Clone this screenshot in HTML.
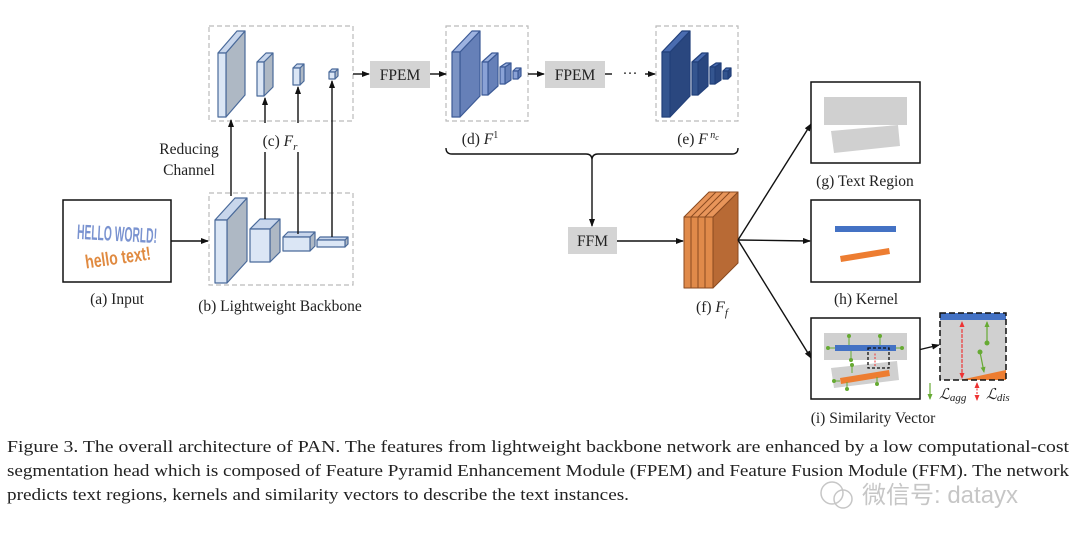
<!DOCTYPE html>
<html><head><meta charset="utf-8"><style>
html,body{margin:0;padding:0;background:#fff;}
svg{display:block;}
</style></head><body>
<svg width="1080" height="546" viewBox="0 0 1080 546" xmlns="http://www.w3.org/2000/svg" font-family="Liberation Serif, serif" fill="#222">
<defs>
<marker id="ah" markerWidth="8" markerHeight="6" refX="7" refY="3" orient="auto" markerUnits="userSpaceOnUse"><path d="M0,0 L8,3 L0,6 z" fill="#111"/></marker>
<marker id="rh" markerWidth="6" markerHeight="5" refX="5" refY="2.5" orient="auto" markerUnits="userSpaceOnUse"><path d="M0,0 L6,2.5 L0,5 z" fill="#e33"/></marker>
<marker id="gh" markerWidth="6" markerHeight="5" refX="5" refY="2.5" orient="auto" markerUnits="userSpaceOnUse"><path d="M0,0 L6,2.5 L0,5 z" fill="#6a3"/></marker>
</defs>

<g fill="none" stroke="#bbb" stroke-width="1.2" stroke-dasharray="5,3">
<rect x="209" y="26" width="144" height="95"/>
<rect x="209" y="193" width="144" height="92"/>
<rect x="446" y="26" width="82" height="95"/>
<rect x="656" y="26" width="82" height="95"/>
</g>

<g stroke="#4a6a9a" stroke-width="1.2" stroke-linejoin="round">
<polygon points="226,53 245,31 245,95 226,117" fill="#aeb8c4"/>
<polygon points="218,53 237,31 245,31 226,53" fill="#c8d6ec"/>
<rect x="218" y="53" width="8" height="64" fill="#dbe6f5"/>
<polygon points="264,62 273,53 273,87 264,96" fill="#aeb8c4"/>
<polygon points="257,62 266,53 273,53 264,62" fill="#c8d6ec"/>
<rect x="257" y="62" width="7" height="34" fill="#dbe6f5"/>
<polygon points="300,68 304,64 304,81 300,85" fill="#aeb8c4"/>
<polygon points="293,68 297,64 304,64 300,68" fill="#c8d6ec"/>
<rect x="293" y="68" width="7" height="17" fill="#dbe6f5"/>
<polygon points="335,72 338,69 338,76 335,79" fill="#aeb8c4"/>
<polygon points="329,72 332,69 338,69 335,72" fill="#c8d6ec"/>
<rect x="329" y="72" width="6" height="7" fill="#dbe6f5"/>

<polygon points="227,220 247,198 247,261 227,283" fill="#aeb8c4"/>
<polygon points="215,220 235,198 247,198 227,220" fill="#c8d6ec"/>
<rect x="215" y="220" width="12" height="63" fill="#dbe6f5"/>
<polygon points="270,229 280,219 280,252 270,262" fill="#aeb8c4"/>
<polygon points="250,229 260,219 280,219 270,229" fill="#c8d6ec"/>
<rect x="250" y="229" width="20" height="33" fill="#dbe6f5"/>
<polygon points="310,237 315,232 315,246 310,251" fill="#aeb8c4"/>
<polygon points="283,237 288,232 315,232 310,237" fill="#c8d6ec"/>
<rect x="283" y="237" width="27" height="14" fill="#dbe6f5"/>
<polygon points="345,240 348,237 348,244 345,247" fill="#aeb8c4"/>
<polygon points="317,240 320,237 348,237 345,240" fill="#c8d6ec"/>
<rect x="317" y="240" width="28" height="7" fill="#dbe6f5"/>
</g>

<g stroke="#3c5a96" stroke-width="1.2" stroke-linejoin="round">
<polygon points="460,52 480,31 480,96 460,117" fill="#6680b8"/>
<polygon points="452,52 472,31 480,31 460,52" fill="#9db2e0"/>
<rect x="452" y="52" width="8" height="65" fill="#7b93c4"/>
<polygon points="488,62 498,53 498,86 488,95" fill="#6680b8"/>
<polygon points="482,62 492,53 498,53 488,62" fill="#9db2e0"/>
<rect x="482" y="62" width="6" height="33" fill="#8aa2d6"/>
<polygon points="505,67 511,63 511,80 505,84" fill="#6680b8"/>
<polygon points="500,67 506,63 511,63 505,67" fill="#9db2e0"/>
<rect x="500" y="67" width="5" height="17" fill="#8aa2d6"/>
<polygon points="518,71 521,68 521,76 518,79" fill="#6680b8"/>
<polygon points="513,71 516,68 521,68 518,71" fill="#9db2e0"/>
<rect x="513" y="71" width="5" height="8" fill="#8aa2d6"/>
</g>
<g stroke="#22407a" stroke-width="1.2" stroke-linejoin="round" transform="translate(210,0)">
<polygon points="460,52 480,31 480,96 460,117" fill="#2a477f"/>
<polygon points="452,52 472,31 480,31 460,52" fill="#4a6cb0"/>
<rect x="452" y="52" width="8" height="65" fill="#34558f"/>
<polygon points="488,62 498,53 498,86 488,95" fill="#2a477f"/>
<polygon points="482,62 492,53 498,53 488,62" fill="#4a6cb0"/>
<rect x="482" y="62" width="6" height="33" fill="#34558f"/>
<polygon points="505,67 511,63 511,80 505,84" fill="#2a477f"/>
<polygon points="500,67 506,63 511,63 505,67" fill="#4a6cb0"/>
<rect x="500" y="67" width="5" height="17" fill="#34558f"/>
<polygon points="518,71 521,68 521,76 518,79" fill="#2a477f"/>
<polygon points="513,71 516,68 521,68 518,71" fill="#4a6cb0"/>
<rect x="513" y="71" width="5" height="8" fill="#34558f"/>
</g>

<g stroke="#8a4a20" stroke-width="1" stroke-linejoin="round">
<polygon points="713,217 738,192 738,263 713,288" fill="#b86a35"/>
<polygon points="684,217 709,192 738,192 713,217" fill="#e8955a"/>
<rect x="684" y="217" width="29" height="71" fill="#e08a4a"/>
<line x1="691" y1="217" x2="691" y2="288"/><line x1="698" y1="217" x2="698" y2="288"/><line x1="705" y1="217" x2="705" y2="288"/>
<line x1="691" y1="217" x2="716" y2="192"/><line x1="698" y1="217" x2="723" y2="192"/><line x1="705" y1="217" x2="730" y2="192"/>
</g>

<g fill="#d4d4d4">
<rect x="370" y="61" width="60" height="27"/>
<rect x="545" y="61" width="60" height="27"/>
<rect x="568" y="227" width="49" height="27"/>
</g>
<g font-size="15.5" text-anchor="middle" fill="#222">
<text x="400" y="80">FPEM</text>
<text x="575" y="80">FPEM</text>
<text x="592.5" y="246">FFM</text>
</g>

<g stroke="#111" stroke-width="1.4" fill="none" marker-end="url(#ah)">
<line x1="171" y1="241" x2="208" y2="241"/>
<line x1="231" y1="196" x2="231" y2="120"/>
<line x1="265" y1="123" x2="265" y2="98"/>
<line x1="298" y1="123" x2="298" y2="87"/>
<line x1="332" y1="120" x2="332" y2="81"/>
<line x1="353" y1="74" x2="369" y2="74"/>
<line x1="430" y1="74" x2="446" y2="74"/>
<line x1="528" y1="74" x2="544" y2="74"/>
<line x1="645" y1="74" x2="655" y2="74"/>
<line x1="592" y1="160" x2="592" y2="226"/>
<line x1="617" y1="241" x2="683" y2="241"/>
<line x1="738" y1="240" x2="811" y2="124"/>
<line x1="738" y1="240" x2="810" y2="241"/>
<line x1="738" y1="240" x2="811" y2="358"/>
<line x1="889" y1="357" x2="939" y2="345"/>
</g>
<g stroke="#111" stroke-width="1.4">
<line x1="265" y1="219" x2="265" y2="152"/>
<line x1="298" y1="234" x2="298" y2="152"/>
<line x1="332" y1="237" x2="332" y2="120"/>
<line x1="605" y1="74" x2="612" y2="74"/>
</g>
<text x="630" y="78" font-size="15" text-anchor="middle">···</text>
<path d="M446,148 q0,6 6,6 L586,154 q6,0 6,6 q0,-6 6,-6 L732,154 q6,0 6,-6" fill="none" stroke="#111" stroke-width="1.4"/>

<rect x="63" y="200" width="108" height="82" fill="#fff" stroke="#111" stroke-width="1.5"/>
<text x="117" y="241" style="font-family:'Liberation Sans',sans-serif;fill:#7a93d0" font-size="21" font-weight="bold" text-anchor="middle" textLength="80" lengthAdjust="spacingAndGlyphs" transform="rotate(3 117 235)">HELLO WORLD!</text>
<text x="118" y="264" style="font-family:'Liberation Sans',sans-serif;fill:#e08a40" font-size="19" font-weight="bold" text-anchor="middle" textLength="66" lengthAdjust="spacingAndGlyphs" transform="rotate(-8 118 258)">hello text!</text>

<g fill="#fff" stroke="#111" stroke-width="1.5">
<rect x="811" y="82" width="109" height="81"/>
<rect x="811" y="200" width="109" height="82"/>
<rect x="811" y="318" width="109" height="81"/>
</g>
<rect x="824" y="97" width="83" height="28" fill="#d0d0d0"/>
<polygon points="831,131 898,125 900,146 834,153" fill="#d0d0d0"/>
<rect x="835" y="226" width="61" height="6" fill="#4472c4"/>
<polygon points="840,256 889,248 890,254 841,262" fill="#ed7d31"/>

<rect x="824" y="333" width="83" height="27" fill="#d0d0d0"/>
<polygon points="831,368 897,361 899,380 834,388" fill="#d0d0d0"/>
<rect x="835" y="345" width="61" height="6" fill="#4472c4"/>
<polygon points="840,378 889,370 890,376 841,384" fill="#ed7d31"/>
<g stroke="#6a3" stroke-width="1" fill="#6a3">
<line x1="849" y1="345" x2="849" y2="336"/><circle cx="849" cy="336" r="1.5"/>
<line x1="880" y1="345" x2="880" y2="336"/><circle cx="880" cy="336" r="1.5"/>
<line x1="851" y1="351" x2="851" y2="360"/><circle cx="851" cy="360" r="1.5"/>
<line x1="835" y1="348" x2="828" y2="348"/><circle cx="828" cy="348" r="1.5"/>
<line x1="896" y1="348" x2="902" y2="348"/><circle cx="902" cy="348" r="1.5"/>
<line x1="852" y1="373" x2="852" y2="365"/><circle cx="852" cy="365" r="1.5"/>
<line x1="847" y1="382" x2="847" y2="389"/><circle cx="847" cy="389" r="1.5"/>
<line x1="877" y1="377" x2="877" y2="384"/><circle cx="877" cy="384" r="1.5"/>
<line x1="840" y1="381" x2="834" y2="381"/><circle cx="834" cy="381" r="1.5"/>
</g>
<rect x="868" y="348" width="21" height="20" fill="none" stroke="#111" stroke-width="1.3" stroke-dasharray="3,2"/>
<line x1="875" y1="366" x2="875" y2="352" stroke="#e33" stroke-width="1" stroke-dasharray="2,1.5"/>

<rect x="940" y="313" width="66" height="67" fill="#d0d0d0"/>
<rect x="940" y="313" width="66" height="7" fill="#4472c4"/>
<polygon points="960,380 1006,370 1006,380" fill="#ed7d31"/>
<rect x="940" y="313" width="66" height="67" fill="none" stroke="#111" stroke-width="1.5" stroke-dasharray="6,3"/>
<line x1="962" y1="377" x2="962" y2="322" stroke="#e33" stroke-width="1.1" stroke-dasharray="3,2" marker-end="url(#rh)"/>
<line x1="962" y1="330" x2="962" y2="378" stroke="#e33" stroke-width="1.1" stroke-dasharray="3,2" marker-end="url(#rh)"/>
<line x1="987" y1="343" x2="987" y2="322" stroke="#6a3" stroke-width="1.2" marker-end="url(#gh)"/>
<circle cx="987" cy="343" r="2.5" fill="#6a3"/>
<line x1="980" y1="352" x2="984" y2="372" stroke="#6a3" stroke-width="1.2" marker-end="url(#gh)"/>
<circle cx="980" cy="352" r="2.5" fill="#6a3"/>

<line x1="930" y1="383" x2="930" y2="399" stroke="#6a3" stroke-width="1.2" marker-end="url(#gh)"/>
<text x="939" y="399" font-size="15" font-style="italic">ℒ<tspan font-size="11" dy="2">agg</tspan></text>
<line x1="977" y1="388" x2="977" y2="383" stroke="#e33" stroke-width="1.1" marker-end="url(#rh)"/>
<line x1="977" y1="385" x2="977" y2="400" stroke="#e33" stroke-width="1.1" stroke-dasharray="2,1.5" marker-end="url(#rh)"/>
<text x="986" y="399" font-size="15" font-style="italic">ℒ<tspan font-size="11" dy="2">dis</tspan></text>

<g font-size="15.5" text-anchor="middle">
<text x="117" y="304">(a) Input</text>
<text x="280" y="311">(b) Lightweight  Backbone</text>
<text x="280" y="146">(c) <tspan font-style="italic">F</tspan><tspan font-style="italic" font-size="11" dy="4">r</tspan></text>
<text x="189" y="154">Reducing</text>
<text x="189" y="175">Channel</text>
<text x="480" y="144">(d) <tspan font-style="italic">F</tspan><tspan font-size="10" dy="-6">1</tspan></text>
<text x="698" y="144">(e) <tspan font-style="italic">F</tspan><tspan font-style="italic" font-size="10" dy="-6"> n</tspan><tspan font-style="italic" font-size="8" dy="2">c</tspan></text>
<text x="712" y="312">(f) <tspan font-style="italic">F</tspan><tspan font-style="italic" font-size="11" dy="4">f</tspan></text>
<text x="865" y="186">(g) Text Region</text>
<text x="866" y="304">(h) Kernel</text>
<text x="873" y="423">(i) Similarity Vector</text>
</g>

<g font-size="17">
<text x="7" y="452" textLength="1062" lengthAdjust="spacingAndGlyphs">Figure 3. The overall architecture of PAN. The features from lightweight backbone network are enhanced by a low computational-cost</text>
<text x="7" y="476" textLength="1062" lengthAdjust="spacingAndGlyphs">segmentation head which is composed of Feature Pyramid Enhancement Module (FPEM) and Feature Fusion Module (FFM). The network</text>
<text x="7" y="500" textLength="622" lengthAdjust="spacingAndGlyphs">predicts text regions, kernels and similarity vectors to describe the text instances.</text>
</g>
<g opacity="0.55">
<circle cx="832" cy="493" r="11" fill="none" stroke="#999" stroke-width="1.5"/>
<circle cx="843" cy="499" r="9" fill="none" stroke="#999" stroke-width="1.5"/>
<text x="862" y="503" style="font-family:'Liberation Sans','Noto Sans CJK SC',sans-serif;fill:#999" font-size="24">微信号: datayx</text>
</g>
</svg>
</body></html>
